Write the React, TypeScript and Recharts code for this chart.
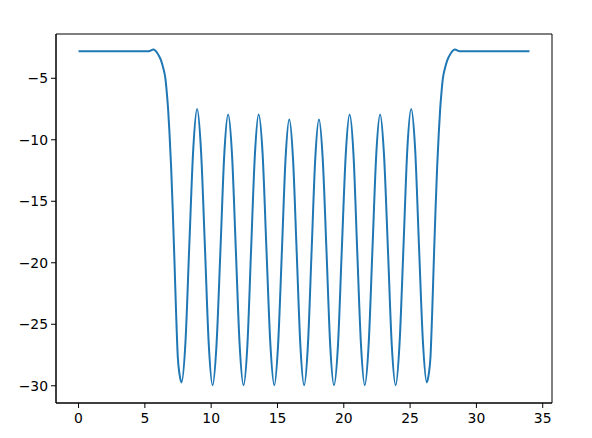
import React from "react";
import { LineChart, Line, XAxis, YAxis, ReferenceArea } from "recharts";

// values (x position, level)
const xValues = [
  0, 5.3, 5.64, 5.97, 6.22, 6.4, 6.55, 6.65, 6.75, 6.85, 6.98, 7.1, 7.23, 7.36, 7.48, 7.62,
  7.76, 8.06, 8.35, 8.65,
  8.94, 9.23, 9.53, 9.82,
  10.11, 10.4, 10.7, 10.99,
  11.28, 11.57, 11.86, 12.15,
  12.44, 12.73, 13.01, 13.3,
  13.58, 13.88, 14.17, 14.47,
  14.76, 15.04, 15.33, 15.61,
  15.89, 16.17, 16.45, 16.73,
  17.01, 17.29, 17.57, 17.85,
  18.13, 18.41, 18.7, 18.98,
  19.26, 19.56, 19.85, 20.15,
  20.44, 20.73, 21.01, 21.3,
  21.58, 21.87, 22.16, 22.45,
  22.74, 23.03, 23.33, 23.62,
  23.91, 24.2, 24.5, 24.79,
  25.08, 25.38, 25.67, 25.97,
  26.26, 26.4, 26.54, 26.66, 26.79, 26.92, 27.04, 27.17, 27.27, 27.37, 27.47, 27.62, 27.8,
  28.05, 28.38, 28.72, 34,
];

const yValues = [
  -2.8, -2.8, -2.67, -3.0, -3.54, -4.22, -5.03, -6.11, -7.47, -9.3, -12.2, -15.6, -19.8, -24.2, -27.6, -29.1,
  -29.73, -26.48, -18.62, -10.75,
  -7.5, -10.79, -18.73, -26.66,
  -29.95, -26.73, -18.95, -11.17,
  -7.95, -11.17, -18.95, -26.73,
  -29.95, -26.73, -18.95, -11.17,
  -7.95, -11.17, -18.95, -26.73,
  -29.95, -26.79, -19.15, -11.51,
  -8.35, -11.51, -19.15, -26.79,
  -29.95, -26.79, -19.15, -11.51,
  -8.35, -11.51, -19.15, -26.79,
  -29.95, -26.73, -18.95, -11.17,
  -7.95, -11.17, -18.95, -26.73,
  -29.95, -26.73, -18.95, -11.17,
  -7.95, -11.17, -18.95, -26.73,
  -29.95, -26.66, -18.73, -10.79,
  -7.5, -10.75, -18.62, -26.48,
  -29.73, -29.1, -27.6, -24.2, -19.8, -15.6, -12.2, -9.3, -7.47, -6.11, -5.03, -4.22, -3.54,
  -3.0, -2.67, -2.8, -2.8,
];

const xTicks = [0, 5, 10, 15, 20, 25, 30, 35];
const yTicks = [-30, -25, -20, -15, -10, -5];

const data = xValues.map((x, i) => ({ x, y: yValues[i] }));

const formatTick = (v: number) => (v < 0 ? `\u2212${Math.abs(v)}` : `${v}`);

const tickStyle = { fontSize: 13.9, fill: "#000", fontFamily: "DejaVu Sans" };

export default function App() {
  return (
    <div style={{ position: "absolute", left: 0, top: 0, width: 592, height: 438, background: "#fff" }}>
      <LineChart width={592} height={438} data={data} margin={{ top: 34, right: 40, bottom: 0, left: 0 }}>
        <XAxis
          dataKey="x"
          type="number"
          domain={[-1.7, 35.7]}
          ticks={xTicks}
          interval={0}
          tick={tickStyle}
          tickFormatter={formatTick}
          height={35}
          tickSize={5}
          tickMargin={5}
          stroke="#000"
        />
        <YAxis
          type="number"
          domain={[-31.4, -1.4]}
          ticks={yTicks}
          interval={0}
          tick={tickStyle}
          tickFormatter={formatTick}
          width={56}
          tickSize={5}
          tickMargin={3}
          stroke="#000"
        />
        <ReferenceArea x1={-1.7} x2={35.7} y1={-31.4} y2={-1.4} fill="none" fillOpacity={0} stroke="#000" strokeWidth={1} />
        <Line dataKey="y" type="monotone" stroke="#1f77b4" strokeWidth={2} dot={false} isAnimationActive={false} />
      </LineChart>
    </div>
  );
}
